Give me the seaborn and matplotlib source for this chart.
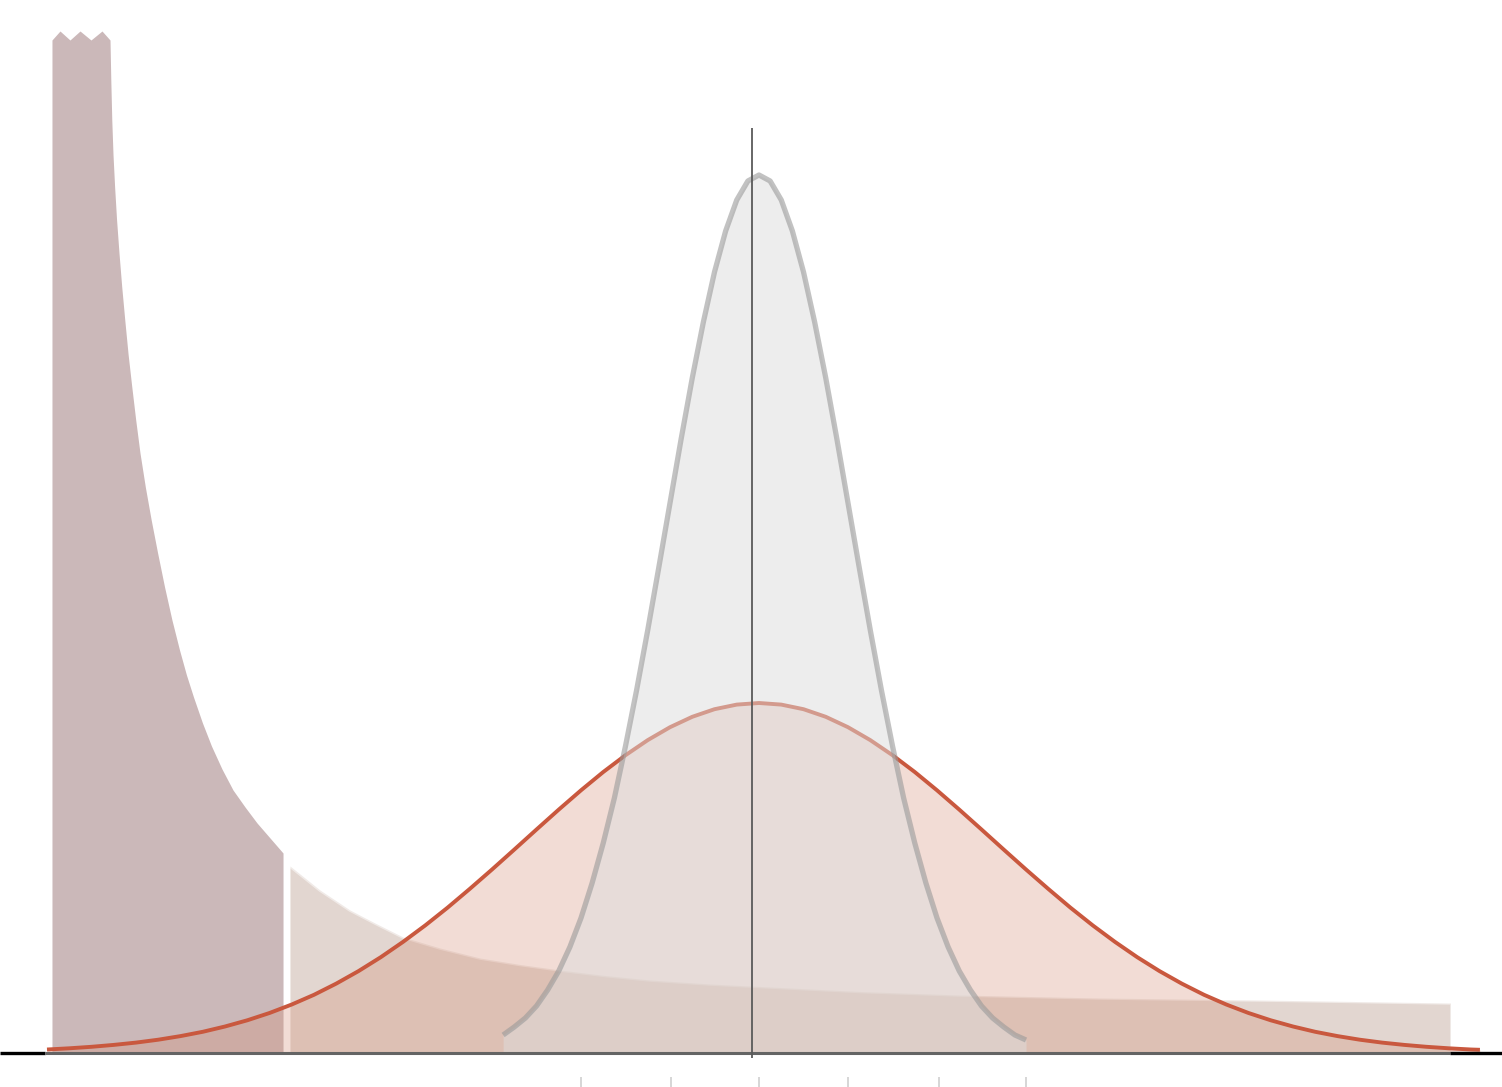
import numpy as np
import pandas as pd
import matplotlib
matplotlib.use("Agg")
import matplotlib.pyplot as plt
import seaborn as sns

# ---------------- data ----------------
# heavy-tailed (power-law like) shaded area, dark segment (with broken top)
power_dark_x = [-7.944, -7.854, -7.742, -7.629, -7.506, -7.382, -7.292, -7.283, -7.272,
                -7.258, -7.240, -7.218, -7.191, -7.160, -7.126, -7.089, -7.047, -7.003,
                -6.955, -6.895, -6.829, -6.757, -6.679, -6.596, -6.511, -6.433, -6.354,
                -6.253, -6.152, -6.034, -5.910, -5.775, -5.640, -5.494, -5.348]
power_dark_y = [10.13, 10.22, 10.13, 10.22, 10.13, 10.22, 10.13, 9.73, 9.33,
                8.98, 8.66, 8.33, 8.00, 7.66, 7.33, 6.99, 6.66, 6.33,
                6.00, 5.66, 5.33, 5.00, 4.66, 4.33, 4.03, 3.78, 3.56,
                3.30, 3.07, 2.84, 2.63, 2.46, 2.30, 2.15, 2.00]
# light tail segment
power_light_x = [-5.270, -5.101, -4.933, -4.764, -4.596, -4.315, -4.000, -3.584, -3.135,
                 -2.685, -2.236, -1.730, -1.225, -0.551, 0.124, 1.135, 2.258, 3.831,
                 5.629, 7.764]
power_light_y = [1.87, 1.75, 1.63, 1.53, 1.43, 1.30, 1.16, 1.05, 0.95,
                 0.885, 0.83, 0.775, 0.73, 0.69, 0.66, 0.615, 0.58, 0.55,
                 0.53, 0.50]

# wide (red) bell curve
red_x = [-8.0, -7.75, -7.5, -7.25, -7.0, -6.75, -6.5, -6.25, -6.0, -5.75, -5.5, -5.25,
         -5.0, -4.75, -4.5, -4.25, -4.0, -3.75, -3.5, -3.25, -3.0, -2.75, -2.5, -2.25,
         -2.0, -1.75, -1.5, -1.25, -1.0, -0.75, -0.5, -0.25, 0.0,
         0.25, 0.5, 0.75, 1.0, 1.25, 1.5, 1.75, 2.0, 2.25, 2.5, 2.75, 3.0, 3.25, 3.5,
         3.75, 4.0, 4.25, 4.5, 4.75, 5.0, 5.25, 5.5, 5.75, 6.0, 6.25, 6.5, 6.75, 7.0,
         7.25, 7.5, 7.75, 8.0, 8.1]
red_y = [0.035, 0.047, 0.062, 0.081, 0.104, 0.133, 0.169, 0.212, 0.265, 0.327, 0.400, 0.485,
         0.582, 0.694, 0.819, 0.958, 1.111, 1.276, 1.453, 1.641, 1.835, 2.034, 2.235, 2.434,
         2.627, 2.810, 2.978, 3.129, 3.258, 3.362, 3.438, 3.484, 3.500,
         3.484, 3.438, 3.362, 3.258, 3.129, 2.978, 2.810, 2.627, 2.434, 2.235, 2.034, 1.835,
         1.641, 1.453, 1.276, 1.111, 0.958, 0.819, 0.694, 0.582, 0.485, 0.400, 0.327, 0.265,
         0.212, 0.169, 0.133, 0.104, 0.081, 0.062, 0.047, 0.035, 0.032]

# narrow (gray) bell curve
gray_x = [-2.875, -2.75, -2.625, -2.5, -2.375, -2.25, -2.125, -2.0, -1.875, -1.75, -1.625,
          -1.5, -1.375, -1.25, -1.125, -1.0, -0.875, -0.75, -0.625, -0.5, -0.375, -0.25,
          -0.125, 0.0, 0.125, 0.25, 0.375, 0.5, 0.625, 0.75, 0.875, 1.0, 1.125, 1.25,
          1.375, 1.5, 1.625, 1.75, 1.875, 2.0, 2.125, 2.25, 2.375, 2.5, 2.625, 2.75,
          2.875, 3.0]
gray_y = [0.18, 0.26, 0.35, 0.47, 0.63, 0.82, 1.06, 1.35, 1.70, 2.10, 2.55,
          3.07, 3.63, 4.23, 4.86, 5.50, 6.14, 6.75, 7.31, 7.81, 8.22, 8.53,
          8.72, 8.78, 8.72, 8.53, 8.22, 7.81, 7.31, 6.75, 6.14, 5.50, 4.86, 4.23,
          3.63, 3.07, 2.55, 2.10, 1.70, 1.35, 1.06, 0.82, 0.63, 0.47, 0.35, 0.26,
          0.18, 0.13]

# reference line and axis ticks
ref_line_x = -0.079
ref_line_range = [-0.05, 9.25]
tick_positions = [-2.0, -0.99, 0.0, 1.0, 2.02, 3.0]
axis_span = [-8.02, 7.764]
x_limits = [-8.528, 8.348]
y_limits = [-0.34, 10.53]

# ---------------- drawing ----------------
sns.set_theme(style="white")
plt.rcParams['font.family'] = ['DejaVu Sans']

fig = plt.figure(figsize=(15.02, 10.87), dpi=100)
ax = fig.add_axes([0, 0, 1, 1])
ax.set_xlim(*x_limits)
ax.set_ylim(*y_limits)
ax.axis("off")

# power-law area
ax.fill_between(power_dark_x, 0, power_dark_y, color="#cbb8b9", lw=0, zorder=1)
ax.fill_between(power_light_x, 0, power_light_y, color="#e2d6d0", lw=0, zorder=1)
sns.lineplot(x=power_light_x, y=power_light_y, ax=ax, color="white", lw=2.5, alpha=0.5,
             sort=False, estimator=None, zorder=1.5)

# red bell
ax.fill_between(red_x, 0, red_y, color="#d48e76", alpha=0.3, lw=0, zorder=2)
sns.lineplot(x=red_x, y=red_y, ax=ax, color="#c9583e", lw=2.8, sort=False,
             estimator=None, zorder=2.5)

# gray bell
ax.fill_between(gray_x, 0, gray_y, color="#dddddd", alpha=0.5, lw=0, zorder=3)
sns.lineplot(x=gray_x, y=gray_y, ax=ax, color="#9a9a9a", lw=3.8, alpha=0.6,
             sort=False, estimator=None, zorder=3.5)
for line in ax.lines:
    line.set_solid_capstyle("butt")
    line.set_solid_joinstyle("round")

# baseline
ax.plot([x_limits[0], axis_span[0]], [0, 0], color="black", lw=2.4, zorder=4,
        solid_capstyle="butt")
ax.plot([axis_span[0], axis_span[1]], [0, 0], color="#646464", lw=2.2, zorder=4,
        solid_capstyle="butt")
ax.plot([axis_span[1], x_limits[1]], [0, 0], color="black", lw=2.4, zorder=4,
        solid_capstyle="butt")

# vertical reference line
ax.vlines(ref_line_x, ref_line_range[0], ref_line_range[1], color="#5a5a5a", lw=1.3, zorder=5)

# small ticks below the axis
ax.vlines(tick_positions, -0.34, -0.24, color="#cfcfcf", lw=1.2, zorder=5)

fig.savefig("out.png", dpi=100)
